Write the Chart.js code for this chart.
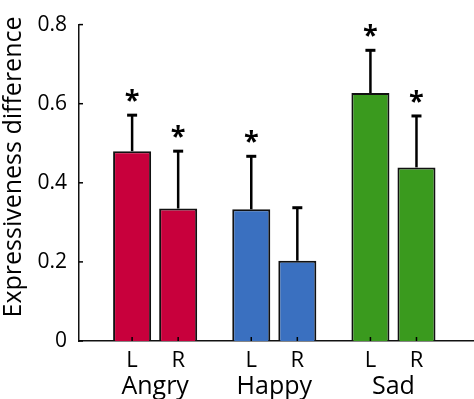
<!DOCTYPE html>
<html>
<head>
<meta charset="utf-8">
<script src="https://cdn.jsdelivr.net/npm/chart.js@4/dist/chart.umd.min.js"></script>
<style>
  html, body { margin: 0; padding: 0; background: #fff; }
  #wrap { width: 474px; height: 399px; position: relative; }
</style>
</head>
<body>
<div id="wrap"><canvas id="chart"></canvas></div>
<script>
// groups and sides
const groups = ['Angry', 'Happy', 'Sad'];
const groupPos = [1, 2, 3];
const sides = ['L', 'R'];

// bar heights
const leftValues = [0.48, 0.333, 0.627];
const rightValues = [0.335, 0.203, 0.439];

// top of error bars
const leftErrTop = [0.571, 0.467, 0.735];
const rightErrTop = [0.48, 0.337, 0.569];

// significance marks
const leftStars = ['*', '*', '*'];
const rightStars = ['*', '', '*'];

const yTicks = [0, 0.2, 0.4, 0.6, 0.8];
const yTitle = 'Expressiveness difference';
const groupColors = ['#c8003c', '#3a70c0', '#3a9a1e'];

const FONT = '"Open Sans", "Noto Sans", sans-serif';

function makeSet(label, values, errTop, stars) {
    return {
        label: label,
        data: values.map((v, i) => ({ x: groupPos[i], y: v })),
        errTop: errTop,
        stars: stars,
        backgroundColor: groupColors,
        borderColor: '#111',
        borderWidth: 2,
        borderSkipped: 'bottom',
        categoryPercentage: 0.773,
        barPercentage: 0.826
    };
}

// error bars, asterisks, inward ticks, axis title and the category labels
const extrasPlugin = {
    id: 'extras',
    afterDatasetsDraw(chart) {
        const ctx = chart.ctx;
        const yScale = chart.scales.y;
        const area = chart.chartArea;
        ctx.save();
        ctx.strokeStyle = '#000';
        ctx.fillStyle = '#000';

        chart.data.datasets.forEach((ds, di) => {
            const meta = chart.getDatasetMeta(di);
            meta.data.forEach((bar, i) => {
                const yTop = yScale.getPixelForValue(ds.errTop[i]);
                // error bar
                ctx.lineWidth = 2.5;
                ctx.beginPath();
                ctx.moveTo(bar.x, bar.y);
                ctx.lineTo(bar.x, yTop);
                ctx.stroke();
                ctx.lineWidth = 3;
                ctx.beginPath();
                ctx.moveTo(bar.x - 5, yTop);
                ctx.lineTo(bar.x + 5, yTop);
                ctx.stroke();
                // star
                if (ds.stars[i]) {
                    ctx.font = 'bold 27px ' + FONT;
                    ctx.textAlign = 'center';
                    ctx.textBaseline = 'middle';
                    ctx.fillText(ds.stars[i], bar.x, yTop - 14);
                }
                // small tick on the baseline
                ctx.lineWidth = 1.5;
                ctx.beginPath();
                ctx.moveTo(bar.x, area.bottom);
                ctx.lineTo(bar.x, area.bottom - 4);
                ctx.stroke();
                // side label
                ctx.font = '22px ' + FONT;
                ctx.textAlign = 'center';
                ctx.textBaseline = 'middle';
                ctx.fillText(sides[di], bar.x, area.bottom + 20);
            });
        });

        // group names under each pair
        const m0 = chart.getDatasetMeta(0).data;
        const m1 = chart.getDatasetMeta(1).data;
        ctx.font = '25px ' + FONT;
        groups.forEach((g, i) => {
            ctx.fillText(g, (m0[i].x + m1[i].x) / 2, area.bottom + 46);
        });

        // inward y ticks
        ctx.lineWidth = 1.5;
        yTicks.forEach(t => {
            const y = yScale.getPixelForValue(t);
            ctx.beginPath();
            ctx.moveTo(area.left, y);
            ctx.lineTo(area.left + 4, y);
            ctx.stroke();
        });

        // y axis title
        ctx.translate(14, 167);
        ctx.rotate(-Math.PI / 2);
        ctx.font = '25px ' + FONT;
        ctx.fillText(yTitle, 0, 0);
        ctx.restore();
    }
};

new Chart(document.getElementById('chart'), {
    type: 'bar',
    data: {
        datasets: [
            makeSet('L', leftValues, leftErrTop, leftStars),
            makeSet('R', rightValues, rightErrTop, rightStars)
        ]
    },
    options: {
        responsive: true,
        maintainAspectRatio: false,
        animation: false,
        layout: { padding: { top: 9, right: 0, left: 0, bottom: 0 } },
        plugins: {
            legend: { display: false },
            tooltip: { enabled: false }
        },
        scales: {
            x: {
                type: 'linear',
                min: 0.361,
                max: 3.676,
                offset: false,
                afterBuildTicks(scale) {
                    scale.ticks = groupPos.map(v => ({ value: v }));
                },
                grid: { display: false },
                border: { display: true, color: '#111', width: 1.5 },
                ticks: { display: false },
                afterFit(scale) { scale.height = 58; }
            },
            y: {
                min: 0,
                max: 0.8,
                afterBuildTicks(scale) {
                    scale.ticks = yTicks.map(v => ({ value: v }));
                },
                grid: { display: false, drawTicks: false },
                border: { display: true, color: '#111', width: 1.5 },
                ticks: {
                    color: '#000',
                    padding: 12,
                    font: { family: FONT, size: 21 },
                    callback: v => (v === 0 ? '0' : v.toFixed(1))
                },
                afterFit(scale) { scale.width = 79; }
            }
        }
    },
    plugins: [extrasPlugin]
});
</script>
</body>
</html>
